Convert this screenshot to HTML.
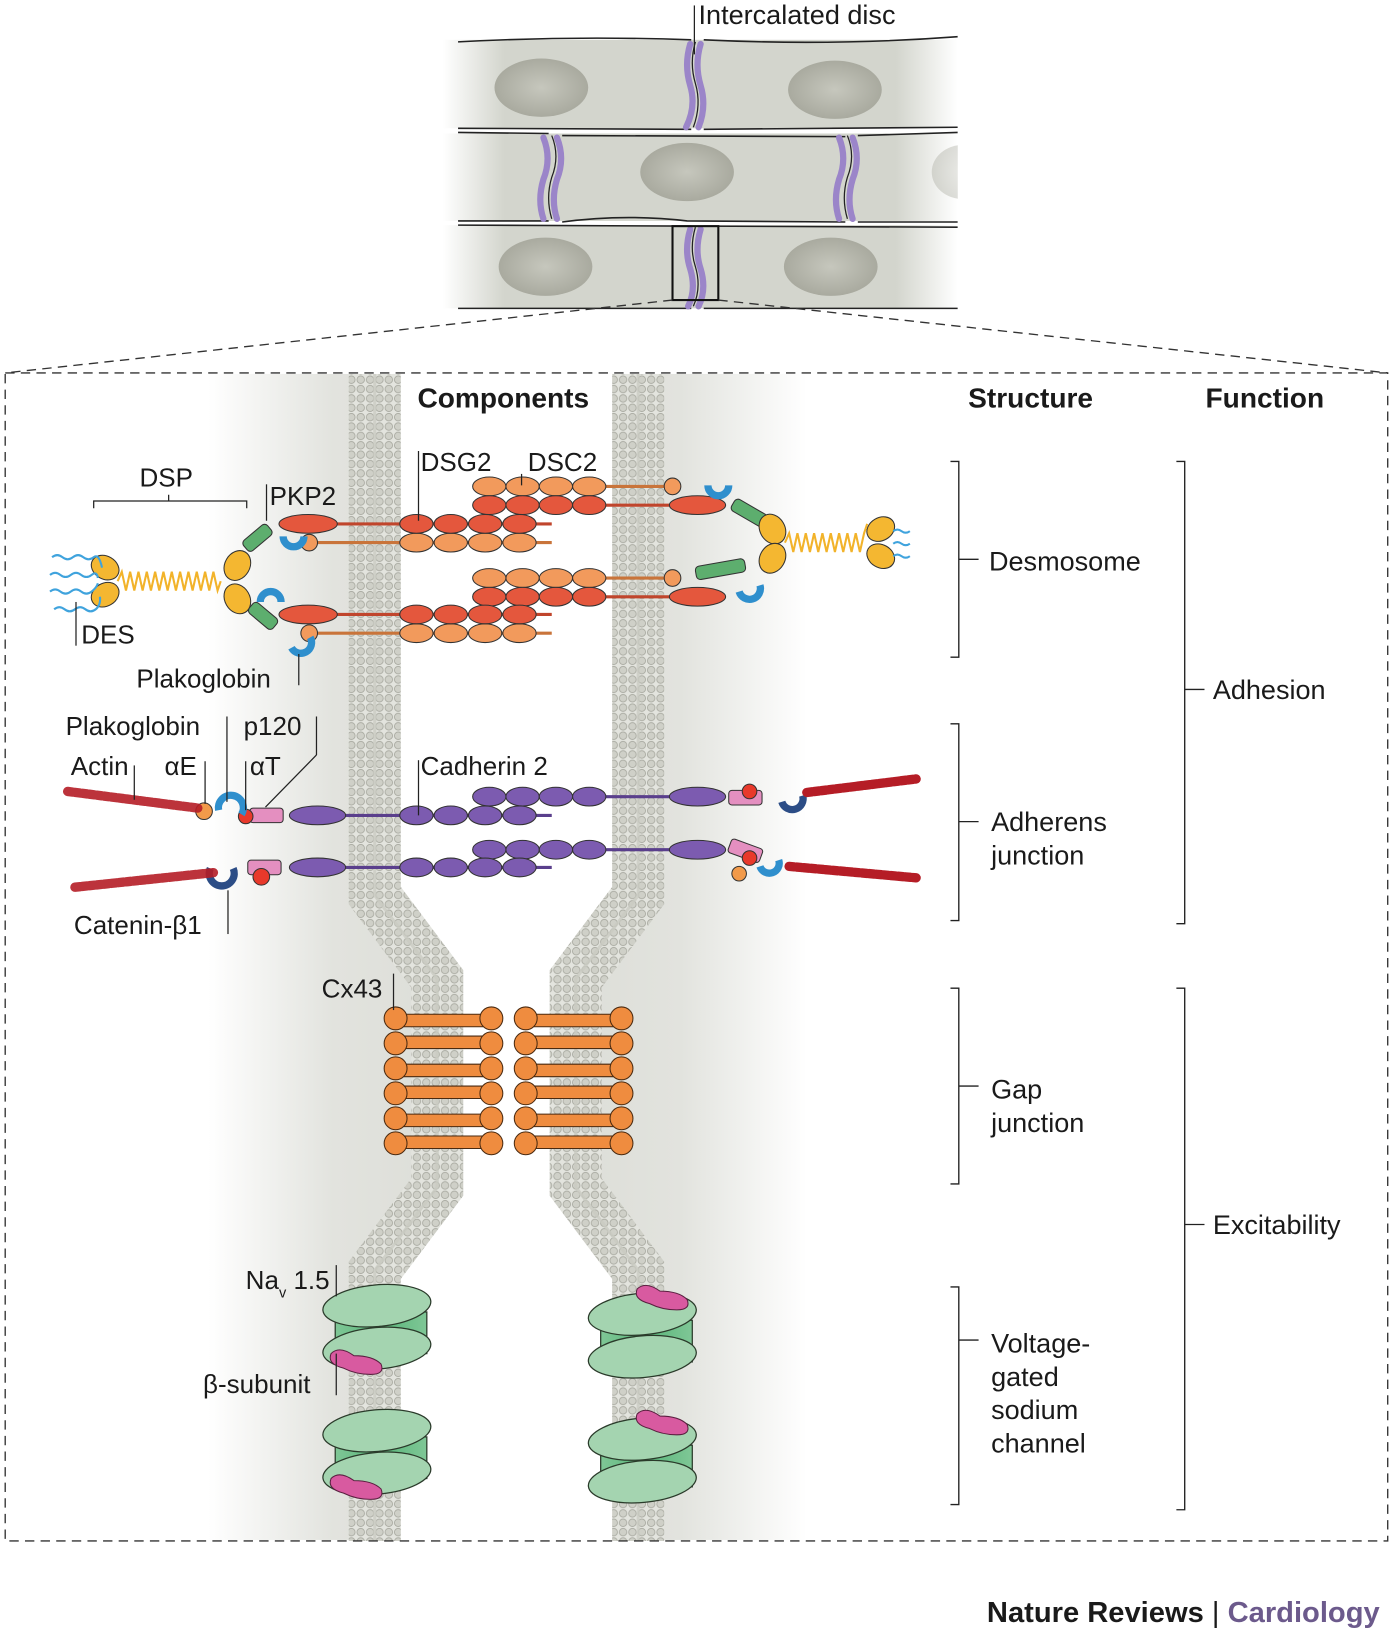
<!DOCTYPE html>
<html><head><meta charset="utf-8"><style>
html,body{margin:0;padding:0;background:#fff}
svg{display:block}
text{font-family:"Liberation Sans",sans-serif;fill:#1a1a1a}
</style></head><body>
<svg width="1395" height="1637" viewBox="0 0 1340 1572" xmlns="http://www.w3.org/2000/svg">
<defs>
<linearGradient id="cellg" x1="0" x2="1" y1="0" y2="0">
<stop offset="0" stop-color="#d3d5cd" stop-opacity="0"/><stop offset="0.12" stop-color="#d3d5cd"/><stop offset="0.88" stop-color="#d3d5cd"/><stop offset="1" stop-color="#d3d5cd" stop-opacity="0"/></linearGradient>
<radialGradient id="nuc"><stop offset="0" stop-color="#c6c7bd"/><stop offset="1" stop-color="#a9aa9f"/></radialGradient>
<linearGradient id="bgL" x1="200" x2="440" gradientUnits="userSpaceOnUse"><stop offset="0" stop-color="#fff"/><stop offset="0.5" stop-color="#e2e3de"/><stop offset="1" stop-color="#dcddd7"/></linearGradient>
<linearGradient id="bgR" x1="533" x2="775" gradientUnits="userSpaceOnUse"><stop offset="0" stop-color="#dcddd7"/><stop offset="0.5" stop-color="#e2e3de"/><stop offset="1" stop-color="#fff"/></linearGradient>
<pattern id="lip" width="9" height="9" patternUnits="userSpaceOnUse">
<rect width="9" height="9" fill="#e3e4de"/>
<circle cx="4.5" cy="4.5" r="3.6" fill="#cfd0c8" stroke="#a8a9a0" stroke-width="0.8"/></pattern>
<linearGradient id="grn" x1="0" x2="1"><stop offset="0" stop-color="#7fc796"/><stop offset="0.5" stop-color="#59b57a"/><stop offset="1" stop-color="#7fc796"/></linearGradient>
<clipPath id="topclip"><rect x="420" y="30" width="500" height="270"/></clipPath>
</defs>

<!-- TOP CELLS -->
<g clip-path="url(#topclip)">
<rect x="425" y="38" width="495" height="85" fill="url(#cellg)"/>
<rect x="425" y="128" width="495" height="84" fill="url(#cellg)"/>
<rect x="425" y="216" width="495" height="80" fill="url(#cellg)"/>
<g stroke="#222" stroke-width="1.5" fill="none">
<path d="M440 40 Q550 34 664 38 M676 38 Q800 44 920 35"/>
<path d="M440 123 L664 124 M676 124 L920 122"/>
<path d="M440 127 L527 128 M540 130 L812 131 M824 130 L920 127"/>
<path d="M440 212 L527 212 M540 213 Q600 205 660 212 L812 213 M824 213 L920 213"/>
<path d="M440 216 L664 217 M676 217 L920 218"/>
<path d="M440 296 L664 296 M676 296 L920 296"/>
</g>
<g fill="url(#nuc)">
<ellipse cx="520" cy="84" rx="45" ry="28"/><ellipse cx="802" cy="86" rx="45" ry="28"/>
<ellipse cx="660" cy="165" rx="45" ry="28"/><ellipse cx="925" cy="165" rx="30" ry="26" opacity="0.4"/>
<ellipse cx="524" cy="256" rx="45" ry="28"/><ellipse cx="798" cy="256" rx="45" ry="28"/>
</g>
</g>
<g fill="none" stroke="#9b85c9" stroke-width="6" stroke-linecap="round">
<path d="M663 42 q-6 20 0 40 q6 20 -4 40"/><path d="M673 42 q-6 20 0 40 q6 20 -2 40"/>
<path d="M522 132 q8 20 0 40 q-6 20 0 38"/><path d="M535 132 q8 20 0 40 q-6 20 0 38"/>
<path d="M806 132 q8 20 0 40 q-6 20 0 38"/><path d="M819 132 q8 20 0 40 q-6 20 0 38"/>
<path d="M663 220 q-6 20 0 38 q6 20 -2 36"/><path d="M673 220 q-6 20 0 38 q6 20 -2 36"/>
</g>
<g fill="none" stroke="#222" stroke-width="1.2">
<path d="M668 40 q-6 20 0 40 q6 20 -2 42"/><path d="M530 130 q8 20 0 40 q-6 20 0 40"/><path d="M814 130 q8 20 0 40 q-6 20 0 40"/><path d="M668 218 q-6 20 0 38 q6 20 -2 38"/>
</g>
<rect x="646" y="217" width="44" height="71" fill="none" stroke="#111" stroke-width="2"/>
<line x1="667" y1="5" x2="667" y2="52" stroke="#222" stroke-width="1.2"/>
<text x="671" y="23" font-size="26">Intercalated disc</text>
<g stroke="#333" stroke-width="1.3" stroke-dasharray="9,6" fill="none">
<line x1="646" y1="288" x2="5" y2="358"/><line x1="690" y1="288" x2="1333" y2="358"/>
</g>

<!-- MAIN BOX BACKGROUND -->
<rect x="200" y="359" width="240" height="1120" fill="url(#bgL)"/>
<rect x="533" y="359" width="242" height="1120" fill="url(#bgR)"/>
<path d="M360 359 L613 359 L613 860 L553 940 L553 1140 L613 1220 L613 1480 L360 1480 L360 1220 L420 1140 L420 940 L360 860 Z" fill="#fff"/>
<!-- membranes -->
<g fill="none" stroke="url(#lip)" stroke-width="50">
<path d="M360 359 L360 860 L420 940 L420 1140 L360 1220 L360 1480"/>
<path d="M613 359 L613 860 L553 940 L553 1140 L613 1220 L613 1480"/>
</g>
<g fill="none" stroke="#c9cac2" stroke-width="3" opacity="0.8">
<path d="M360 359 L360 860 L420 940 L420 1140 L360 1220 L360 1480"/>
<path d="M613 359 L613 860 L553 940 L553 1140 L613 1220 L613 1480"/>
</g>
<rect x="5" y="358" width="1328" height="1122" fill="none" stroke="#333" stroke-width="1.3" stroke-dasharray="9,6"/>

<!-- HEADINGS -->
<g font-weight="bold" font-size="27">
<text x="401" y="391">Components</text><text x="930" y="391">Structure</text><text x="1158" y="391">Function</text>
</g>

<!-- BRACKETS -->
<g fill="none" stroke="#222" stroke-width="1.3">
<path d="M913 443 H921 V631 H913 M921 537 H940"/>
<path d="M913 695 H921 V884 H913 M921 789 H940"/>
<path d="M913 949 H921 V1137 H913 M921 1043 H940"/>
<path d="M913 1236 H921 V1445 H913 M921 1287 H940"/>
<path d="M1130 443 H1138 V887 H1130 M1138 662 H1157"/>
<path d="M1130 949 H1138 V1450 H1130 M1138 1176 H1157"/>
</g>
<g font-size="26">
<text x="950" y="548">Desmosome</text>
<text x="952" y="798">Adherens</text><text x="952" y="830">junction</text>
<text x="952" y="1055">Gap</text><text x="952" y="1087">junction</text>
<text x="952" y="1299">Voltage-</text><text x="952" y="1331">gated</text><text x="952" y="1363">sodium</text><text x="952" y="1395">channel</text>
<text x="1165" y="671">Adhesion</text><text x="1165" y="1185">Excitability</text>
</g>

<!-- DESMOSOME -->
<g stroke="#333" stroke-width="1">
<g stroke-width="3">
<line x1="300" y1="503" x2="530" y2="503" stroke="#c0452c"/><line x1="300" y1="521" x2="530" y2="521" stroke="#c9743a"/>
<line x1="455" y1="467" x2="640" y2="467" stroke="#c9743a"/><line x1="455" y1="485" x2="670" y2="485" stroke="#c0452c"/>
<line x1="300" y1="590" x2="530" y2="590" stroke="#c0452c"/><line x1="300" y1="608" x2="530" y2="608" stroke="#c9743a"/>
<line x1="455" y1="555" x2="640" y2="555" stroke="#c9743a"/><line x1="455" y1="573" x2="670" y2="573" stroke="#c0452c"/>
</g>
<g fill="#f29a5c">
<ellipse cx="470" cy="467" rx="16" ry="9"/><ellipse cx="502" cy="467" rx="16" ry="9"/><ellipse cx="534" cy="467" rx="16" ry="9"/><ellipse cx="566" cy="467" rx="16" ry="9"/><circle cx="646" cy="467" r="8"/>
<ellipse cx="400" cy="521" rx="16" ry="9"/><ellipse cx="433" cy="521" rx="16" ry="9"/><ellipse cx="466" cy="521" rx="16" ry="9"/><ellipse cx="499" cy="521" rx="16" ry="9"/><circle cx="297" cy="521" r="8"/>
<ellipse cx="470" cy="555" rx="16" ry="9"/><ellipse cx="502" cy="555" rx="16" ry="9"/><ellipse cx="534" cy="555" rx="16" ry="9"/><ellipse cx="566" cy="555" rx="16" ry="9"/><circle cx="646" cy="555" r="8"/>
<ellipse cx="400" cy="608" rx="16" ry="9"/><ellipse cx="433" cy="608" rx="16" ry="9"/><ellipse cx="466" cy="608" rx="16" ry="9"/><ellipse cx="499" cy="608" rx="16" ry="9"/><circle cx="297" cy="608" r="8"/>
</g>
<g fill="#e4573d">
<ellipse cx="470" cy="485" rx="16" ry="9"/><ellipse cx="502" cy="485" rx="16" ry="9"/><ellipse cx="534" cy="485" rx="16" ry="9"/><ellipse cx="566" cy="485" rx="16" ry="9"/><ellipse cx="670" cy="485" rx="27" ry="9"/>
<ellipse cx="400" cy="503" rx="16" ry="9"/><ellipse cx="433" cy="503" rx="16" ry="9"/><ellipse cx="466" cy="503" rx="16" ry="9"/><ellipse cx="499" cy="503" rx="16" ry="9"/><ellipse cx="296" cy="503" rx="28" ry="9"/>
<ellipse cx="470" cy="573" rx="16" ry="9"/><ellipse cx="502" cy="573" rx="16" ry="9"/><ellipse cx="534" cy="573" rx="16" ry="9"/><ellipse cx="566" cy="573" rx="16" ry="9"/><ellipse cx="670" cy="573" rx="27" ry="9"/>
<ellipse cx="400" cy="590" rx="16" ry="9"/><ellipse cx="433" cy="590" rx="16" ry="9"/><ellipse cx="466" cy="590" rx="16" ry="9"/><ellipse cx="499" cy="590" rx="16" ry="9"/><ellipse cx="296" cy="590" rx="28" ry="9"/>
</g>
<g fill="#5dae6e">
<rect x="232" y="510" width="30" height="13" rx="4" transform="rotate(-40 247 516)"/>
<rect x="238" y="585" width="30" height="13" rx="4" transform="rotate(40 253 591)"/>
<rect x="668" y="540" width="48" height="13" rx="4" transform="rotate(-10 692 546)"/>
<rect x="702" y="486" width="36" height="13" rx="4" transform="rotate(30 720 492)"/>
</g>
<g fill="#f4b731">
<ellipse cx="101" cy="545" rx="14" ry="11" transform="rotate(30 101 545)"/><ellipse cx="101" cy="571" rx="14" ry="11" transform="rotate(-30 101 571)"/>
<ellipse cx="228" cy="543" rx="12" ry="15" transform="rotate(30 228 543)"/><ellipse cx="228" cy="575" rx="12" ry="15" transform="rotate(-30 228 575)"/>
<ellipse cx="742" cy="508" rx="12" ry="15" transform="rotate(-30 742 508)"/><ellipse cx="742" cy="536" rx="12" ry="15" transform="rotate(30 742 536)"/>
<ellipse cx="846" cy="508" rx="14" ry="11" transform="rotate(-30 846 508)"/><ellipse cx="846" cy="534" rx="14" ry="11" transform="rotate(30 846 534)"/>
</g>
</g>
<g fill="none" stroke="#f2b32a" stroke-width="2">
<path d="M113 558 l4 -9 l4 18 l4 -18 l4 18 l4 -18 l4 18 l4 -18 l4 18 l4 -18 l4 18 l4 -18 l4 18 l4 -18 l4 18 l4 -18 l4 18 l4 -18 l4 18 l4 -18 l4 18 l4 -18 l4 18 l4 -18 l4 18 l3 -9"/>
<path d="M754 521 l4 -9 l4 18 l4 -18 l4 18 l4 -18 l4 18 l4 -18 l4 18 l4 -18 l4 18 l4 -18 l4 18 l4 -18 l4 18 l4 -18 l4 18 l4 -18 l4 18 l4 -18 l3 -9"/>
</g>
<g fill="none" stroke="#3fa3dd" stroke-width="2">
<path d="M50 535 q5 -4 10 0 t10 0 t10 0 t10 0 t8 10"/><path d="M48 552 q5 -4 10 0 t10 0 t10 0 t10 0 t6 3"/>
<path d="M48 568 q5 -4 10 0 t10 0 t10 0 t10 0 t6 -8"/><path d="M52 585 q5 -4 10 0 t10 0 t10 0 t10 0 t4 -12"/>
<path d="M858 510 q4 -3 8 0 t8 0"/><path d="M858 522 q4 -3 8 0 t8 0"/><path d="M858 534 q4 -3 8 0 t8 0"/>
</g>
<g fill="none" stroke="#2f8fcd" stroke-width="7">
<path d="M292 515 a10 10 0 1 1 -20 0"/><path d="M270 578 a10 10 0 1 0 -20 0"/>
<path d="M298 612 a9 9 0 1 1 -18 10"/><path d="M700 466 a10 10 0 1 1 -20 0"/><path d="M730 562 a10 10 0 1 1 -20 6"/>
</g>

<!-- ADHERENS -->
<g stroke="#333" stroke-width="1">
<g stroke-width="3" stroke="#5a3f8c">
<line x1="300" y1="783" x2="530" y2="783"/><line x1="455" y1="765" x2="670" y2="765"/>
<line x1="300" y1="833" x2="530" y2="833"/><line x1="455" y1="816" x2="670" y2="816"/>
</g>
<g fill="#7c5bb0">
<ellipse cx="470" cy="765" rx="16" ry="9"/><ellipse cx="502" cy="765" rx="16" ry="9"/><ellipse cx="534" cy="765" rx="16" ry="9"/><ellipse cx="566" cy="765" rx="16" ry="9"/><ellipse cx="670" cy="765" rx="27" ry="9"/>
<ellipse cx="400" cy="783" rx="16" ry="9"/><ellipse cx="433" cy="783" rx="16" ry="9"/><ellipse cx="466" cy="783" rx="16" ry="9"/><ellipse cx="499" cy="783" rx="16" ry="9"/><ellipse cx="305" cy="783" rx="27" ry="9"/>
<ellipse cx="470" cy="816" rx="16" ry="9"/><ellipse cx="502" cy="816" rx="16" ry="9"/><ellipse cx="534" cy="816" rx="16" ry="9"/><ellipse cx="566" cy="816" rx="16" ry="9"/><ellipse cx="670" cy="816" rx="27" ry="9"/>
<ellipse cx="400" cy="833" rx="16" ry="9"/><ellipse cx="433" cy="833" rx="16" ry="9"/><ellipse cx="466" cy="833" rx="16" ry="9"/><ellipse cx="499" cy="833" rx="16" ry="9"/><ellipse cx="305" cy="833" rx="27" ry="9"/>
</g>
<g fill="#e48fc0">
<rect x="240" y="776" width="32" height="14" rx="3"/><rect x="238" y="826" width="32" height="14" rx="3"/>
<rect x="700" y="759" width="32" height="14" rx="3"/><rect x="700" y="810" width="32" height="14" rx="3" transform="rotate(20 716 817)"/>
</g>
<g fill="#e8392b"><circle cx="236" cy="784" r="7"/><circle cx="251" cy="842" r="8"/><circle cx="720" cy="760" r="7"/><circle cx="720" cy="824" r="7"/></g>
<g fill="#f29a4a"><circle cx="196" cy="779" r="8"/><circle cx="710" cy="839" r="7"/></g>
</g>
<g fill="none" stroke="#2f8fcd" stroke-width="7"><path d="M210 778 a12 12 0 1 1 22 4"/><path d="M748 826 a9 9 0 1 1 -18 6"/></g>
<g fill="none" stroke="#2c4d86" stroke-width="7"><path d="M224 834 a12 12 0 1 1 -22 0"/><path d="M771 764 a10 10 0 1 1 -20 6"/></g>
<g stroke="#b51d26" stroke-width="9" stroke-dasharray="5,2" stroke-linecap="round" fill="none">
<path d="M65 760 L190 776" opacity="0.9"/><path d="M72 852 L205 838" opacity="0.9"/>
<path d="M775 761 L880 748"/><path d="M758 832 L880 843"/>
</g>

<!-- GAP JUNCTION -->
<g fill="#ef8c3f" stroke="#4a2a10" stroke-width="1">
<g id="cx">
<rect x="372" y="974" width="106" height="12" rx="6"/><circle cx="380" cy="978" r="11"/><circle cx="472" cy="978" r="11"/>
<rect x="372" y="995" width="106" height="12" rx="6"/><circle cx="380" cy="1002" r="11"/><circle cx="472" cy="1002" r="11"/>
</g>
<use href="#cx" y="48"/><use href="#cx" y="96"/>
<use href="#cx" x="125"/><use href="#cx" x="125" y="48"/><use href="#cx" x="125" y="96"/>
</g>

<!-- NAV -->
<g stroke="#2a3a2a" stroke-width="1.2">
<g id="nav">
<rect x="322" y="1260" width="88" height="40" fill="url(#grn)"/>
<ellipse cx="362" cy="1254" rx="52" ry="20" fill="#a4d4b0" transform="rotate(-5 362 1254)"/>
<ellipse cx="362" cy="1295" rx="52" ry="20" fill="#a4d4b0" transform="rotate(-5 362 1295)"/>
</g>
<use href="#nav" y="120"/>
<use href="#nav" x="255" y="8"/><use href="#nav" x="255" y="128"/>
</g>
<g fill="#d85aa0" stroke="#5a2040" stroke-width="1">
<path d="M318 1300 q8 -8 22 2 q18 0 26 8 q4 10 -10 10 q-14 0 -26 -6 q-16 -4 -12 -14z"/>
<path d="M318 1420 q8 -8 22 2 q18 0 26 8 q4 10 -10 10 q-14 0 -26 -6 q-16 -4 -12 -14z"/>
<path d="M612 1238 q8 -8 22 2 q18 0 26 8 q4 10 -10 10 q-14 0 -26 -6 q-16 -4 -12 -14z"/>
<path d="M612 1358 q8 -8 22 2 q18 0 26 8 q4 10 -10 10 q-14 0 -26 -6 q-16 -4 -12 -14z"/>
</g>

<!-- COMPONENT LABELS -->
<g fill="none" stroke="#222" stroke-width="1.2">
<path d="M90 488 V481 H237 V488 M162 481 V475"/>
<line x1="256" y1="465" x2="256" y2="500"/>
<line x1="402" y1="433" x2="402" y2="500"/><line x1="501" y1="455" x2="501" y2="466"/>
<line x1="73" y1="578" x2="73" y2="620"/>
<line x1="287" y1="628" x2="287" y2="658"/>
<line x1="218" y1="688" x2="218" y2="770"/><line x1="304" y1="688" x2="304" y2="725" /><line x1="304" y1="725" x2="255" y2="775"/>
<line x1="129" y1="735" x2="129" y2="768"/><line x1="197" y1="731" x2="197" y2="772"/><line x1="236" y1="731" x2="236" y2="778"/>
<line x1="402" y1="730" x2="402" y2="783"/>
<line x1="219" y1="855" x2="219" y2="897"/>
<line x1="378" y1="935" x2="378" y2="970"/>
<line x1="323" y1="1215" x2="323" y2="1245"/><line x1="323" y1="1300" x2="323" y2="1340"/>
</g>
<g font-size="25">
<text x="134" y="467">DSP</text>
<text x="259" y="485">PKP2</text>
<text x="404" y="452">DSG2</text><text x="507" y="452">DSC2</text>
<text x="78" y="618">DES</text>
<text x="131" y="660">Plakoglobin</text>
<text x="63" y="706">Plakoglobin</text><text x="234" y="706">p120</text>
<text x="68" y="744">Actin</text><text x="158" y="744">αE</text><text x="240" y="744">αT</text>
<text x="404" y="744">Cadherin 2</text>
<text x="71" y="897">Catenin-β1</text>
<text x="309" y="958">Cx43</text>
<text x="236" y="1238">Na<tspan font-size="14" dy="8">v</tspan><tspan dy="-8"> 1.5</tspan></text>
<text x="195" y="1338">β-subunit</text>
</g>

<text x="948" y="1558" font-size="28" font-weight="bold">Nature Reviews <tspan font-weight="normal">|</tspan> <tspan fill="#6c5a8c">Cardiology</tspan></text>
</svg>
</body></html>
